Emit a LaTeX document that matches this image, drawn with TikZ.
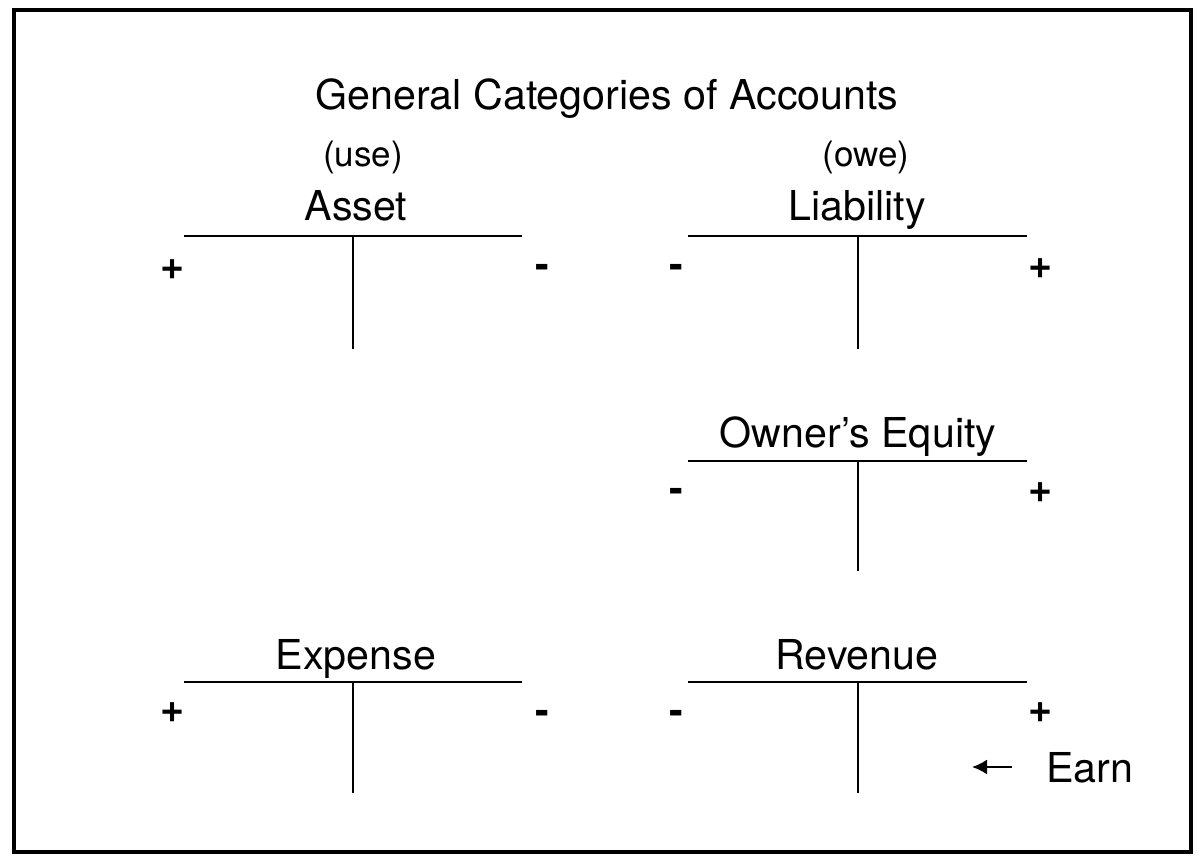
\documentclass[tikz,border=0pt]{standalone}
\usepackage{fontspec}
\setmainfont{TeX Gyre Heros}
\usetikzlibrary{arrows.meta}
\begin{document}
\begin{tikzpicture}[x=0.5pt,y=-0.5pt,
  big/.style={font=\fontsize{20.6pt}{24pt}\selectfont, inner sep=0pt, anchor=base},
  small/.style={font=\fontsize{17.5pt}{21pt}\selectfont, inner sep=0pt, anchor=base},
  sign/.style={font=\fontsize{20.6pt}{24pt}\selectfont\bfseries, inner sep=0pt, anchor=base},
  tline/.style={line width=1pt, black},
  arrowline/.style={line width=1.1pt, black, {Latex[length=7.5pt,width=7.5pt]}-},
  frame/.style={line width=1.6pt, black}]
\useasboundingbox (0,0) rectangle (1200,861);
\draw[frame] (14,10) rectangle (1191,852);
% title
\node[big] (title) at (607,110) {General Categories of Accounts};
\node[small] (use) at (363,167) {(use)};
\node[small] (owe) at (866,167) {(owe)};
% Asset
\node[big] (asset) at (356,221) {Asset};
\draw[tline] (184,236) -- (522,236);
\draw[tline] (353,236) -- (353,349);
\node[sign] (assetp) at (173,280) {+};
\node[sign] (assetm) at (542,279) {-};
% Liability
\node[big] (liab) at (857,221) {Liability};
\draw[tline] (688,236) -- (1027,236);
\draw[tline] (858,236) -- (858,349);
\node[sign] (liabm) at (676,279) {-};
\node[sign] (liabp) at (1041,279) {+};
% Owner's Equity
\node[big] (oe) at (858,447) {Owner’s Equity};
\draw[tline] (688,461) -- (1027,461);
\draw[tline] (858,461) -- (858,571);
\node[sign] (oem) at (676,502) {-};
\node[sign] (oep) at (1041,502) {+};
% Expense
\node[big] (exp) at (356,669) {Expense};
\draw[tline] (184,682) -- (522,682);
\draw[tline] (353,682) -- (353,793);
\node[sign] (expp) at (173,722) {+};
\node[sign] (expm) at (542,724) {-};
% Revenue
\node[big] (rev) at (857,669) {Revenue};
\draw[tline] (688,682) -- (1027,682);
\draw[tline] (858,682) -- (858,793);
\node[sign] (revm) at (676,724) {-};
\node[sign] (revp) at (1041,722) {+};
% Earn
\coordinate (arrtip) at (972,767);
\coordinate (arrtail) at (1012,767);
\draw[arrowline] (arrtip) -- (arrtail);
\node[big] (earn) at (1090,782) {Earn};
\end{tikzpicture}
\end{document}
